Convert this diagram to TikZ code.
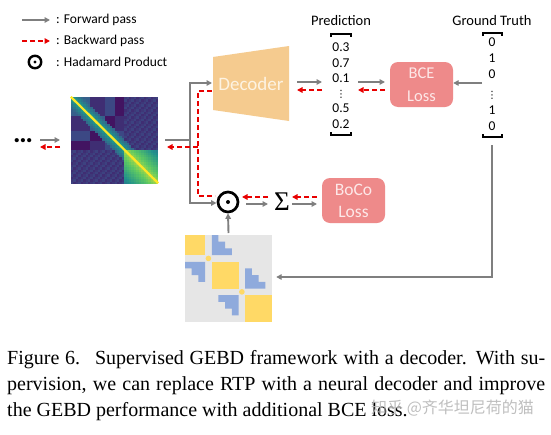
\documentclass[tikz,border=0pt]{standalone}
\usepackage{fontspec}
\setmainfont{Liberation Serif}
\newfontfamily\calfont{Carlito}
\newfontfamily\dejafont{DejaVu Sans}
\newfontfamily\cjkfont{Noto Sans CJK SC}
\usetikzlibrary{arrows.meta}
\definecolor{fgray}{RGB}{127,127,127}
\definecolor{bred}{RGB}{232,0,0}
\definecolor{decfill}{RGB}{245,203,143}
\definecolor{decText}{RGB}{253,243,226}
\definecolor{lossfill}{RGB}{238,138,138}
\definecolor{lossText}{RGB}{253,232,232}
\definecolor{mbg}{RGB}{230,230,230}
\definecolor{myel}{RGB}{255,217,102}
\definecolor{mblue}{RGB}{143,170,220}
\definecolor{vA}{RGB}{68,1,84}
\definecolor{vB}{RGB}{59,82,139}
\definecolor{vC}{RGB}{33,145,140}
\definecolor{vD}{RGB}{94,201,98}
\definecolor{vE}{RGB}{253,231,37}
\newcommand\hmcolor[1]{%
 \pgfmathsetmacro\hmx{#1}%
 \ifdim\hmx pt<0.25pt
   \pgfmathsetmacro\hmt{\hmx*400}\colorlet{hmc}{vB!\hmt!vA}%
 \else\ifdim\hmx pt<0.5pt
   \pgfmathsetmacro\hmt{(\hmx-0.25)*400}\colorlet{hmc}{vC!\hmt!vB}%
 \else\ifdim\hmx pt<0.75pt
   \pgfmathsetmacro\hmt{(\hmx-0.5)*400}\colorlet{hmc}{vD!\hmt!vC}%
 \else
   \pgfmathsetmacro\hmt{min(100,(\hmx-0.75)*400)}\colorlet{hmc}{vE!\hmt!vD}%
 \fi\fi\fi}
\begin{document}
\begin{tikzpicture}[x=1pt,y=-1pt,
  fwd/.style={draw=fgray, line width=1.9pt, -{Triangle[length=5.5pt,width=5.5pt]}},
  fwdline/.style={draw=fgray, line width=1.9pt},
  bwd/.style={draw=bred, line width=2.1pt, dash pattern=on 5pt off 3pt, -{Triangle[length=5.5pt,width=5.5pt]}},
  bwdline/.style={draw=bred, line width=2.1pt, dash pattern=on 5pt off 3pt},
  legtxt/.style={anchor=west, inner sep=0, font=\calfont\fontsize{13.5}{15}\selectfont},
  lbl/.style={inner sep=0, font=\calfont\fontsize{14.5}{17}\selectfont},
  num/.style={inner sep=0, font=\calfont\fontsize{13.5}{16}\selectfont},
  vdt/.style={inner sep=0, font=\dejafont\fontsize{10}{10}\selectfont},
  brk/.style={draw=black, line width=1.3pt},
  hada/.style={circle, draw=black, line width=2.7pt, minimum size=20pt, inner sep=0},
  loss/.style={rounded corners=8pt, fill=lossfill, minimum width=63pt, minimum height=45pt, align=center, text=lossText, inner sep=0},
  capline/.style={anchor=base west, inner sep=0, font=\fontsize{20}{25}\selectfont}
]
\useasboundingbox (0,0) rectangle (551,434);
\fill[white] (0,0) rectangle (551,434);

% ---------- legend ----------
\coordinate (lf1) at (22,20); \coordinate (lf2) at (50,20);
\draw[fwd] (lf1) -- (lf2);
\node[legtxt] (lt1) at (56,20) {: Forward pass};
\coordinate (lb1) at (22,41); \coordinate (lb2) at (50,41);
\draw[bwd] (lb1) -- (lb2);
\node[legtxt] (lt2) at (56,41) {: Backward pass};
\node[hada, minimum size=12.5pt, line width=2.4pt] (lego) at (35,62) {};
\fill (lego.center) circle (1.6pt);
\node[legtxt] (lt3) at (56,62) {: Hadamard Product};

% ---------- heat map ----------
\node[minimum width=87pt, minimum height=86pt, inner sep=0] (heat) at (114.5,140) {};
\pgfmathsetmacro\hmS{87/36}
\foreach \i in {0,...,35}{
  \foreach \j in {0,...,35}{
    \pgfmathtruncatemacro\hmd{abs(\i-\j)}
    \pgfmathtruncatemacro\hmbi{(\i>7)+(\i>13)+(\i>17)+(\i>21)}
    \pgfmathtruncatemacro\hmbj{(\j>7)+(\j>13)+(\j>17)+(\j>21)}
    \pgfmathtruncatemacro\hmlr{(\i>21)*(\j>21)}
    \ifnum\hmlr=1 \pgfmathsetmacro\hmv{0.86-0.032*\hmd}%
    \else\ifnum\hmd<5 \pgfmathsetmacro\hmv{0.56-0.055*\hmd}%
    \else\ifnum\hmbi=\hmbj \def\hmv{0.3}%
    \else\ifnum\hmbi=4 \pgfmathsetmacro\hmv{0.14+0.03*mod(\i+\j,3)}%
    \else\ifnum\hmbj=4 \pgfmathsetmacro\hmv{0.14+0.03*mod(\i+\j,3)}%
    \else \pgfmathsetmacro\hmv{0.06+0.08*mod(\hmbi+\hmbj,3)}%
    \fi\fi\fi\fi\fi
    \hmcolor{\hmv}
    \fill[hmc] (71+\j*\hmS,97+\i*\hmS) rectangle ++(\hmS+0.35,\hmS+0.35);
  }
}
\draw[vE, line width=2.2pt] (heat.north west) -- (heat.south east);

% ---------- dots left ----------
\node[inner sep=0, font=\calfont\bfseries\fontsize{28}{28}\selectfont] (dots) at (23,141) {…};
\coordinate (d1) at (40,140); \coordinate (d2) at (60,140);
\draw[fwd] (d1) -- (d2);
\coordinate (d3) at (60,147); \coordinate (d4) at (40,147);
\draw[bwd] (d3) -- (d4);

% ---------- decoder ----------
\fill[decfill] (213,57) -- (289,46) -- (289,121) -- (213,110) -- cycle;
\node[inner sep=0, text=decText, font=\calfont\fontsize{19}{22}\selectfont] (dec) at (251,84) {Decoder};

% ---------- Hadamard + sum + BoCo ----------
\node[hada] (had) at (228,202) {};
\fill (had.center) circle (2pt);
\node[inner sep=0, font=\fontsize{27}{27}\selectfont] (sig) at (282,202) {Σ};
\node[loss, font=\calfont\fontsize{17.5}{22}\selectfont] (boco) at (353.5,200.5) {BoCo\\Loss};

% ---------- prediction ----------
\node[lbl] (predlbl) at (341,21) {Prediction};
\node[num] (p1) at (341,47.5) {0.3};
\node[num] (p2) at (341,63) {0.7};
\node[num] (p3) at (341,78.5) {0.1};
\node[vdt] (p4) at (341,94) {⋮};
\node[num] (p5) at (341,108) {0.5};
\node[num] (p6) at (341,124) {0.2};
\draw[brk] (331,37) -- (331,34) -- (351,34) -- (351,37);
\draw[brk] (331,132) -- (331,135) -- (351,135) -- (351,132);

% ---------- BCE ----------
\node[loss, font=\calfont\fontsize{16.5}{23}\selectfont] (bce) at (421.5,84.5) {BCE\\Loss};

% ---------- ground truth ----------
\node[lbl] (gtlbl) at (492,21) {Ground Truth};
\node[num] (g1) at (492,41.7) {0};
\node[num] (g2) at (492,58) {1};
\node[num] (g3) at (492,74) {0};
\node[vdt] (g4) at (492,95) {⋮};
\node[num] (g5) at (492,110) {1};
\node[num] (g6) at (492,126) {0};
\draw[brk] (483,36) -- (483,33) -- (502,33) -- (502,36);
\draw[brk] (483,134) -- (483,137) -- (502,137) -- (502,134);

% ---------- target matrix ----------
\fill[mbg] (185,235) rectangle (272,322);
\node[minimum size=87pt, inner sep=0] (tgt) at (228.5,278.5) {};
\begin{scope}[xshift=185pt, yshift=-235pt, x=6.6923pt, y=-6.6923pt]
  \fill[myel] (0,0) rectangle (3,3);
  \fill[myel] (4,4) rectangle (8,8);
  \fill[myel] (9,9) rectangle (13,13);
  \fill[myel] (3.5,3.5) circle (0.42);
  \fill[myel] (8.5,8.5) circle (0.42);
  \fill[mblue] (4,0) -- (5,0) -- (5,1) -- (6,1) -- (6,2) -- (7,2) -- (7,3) -- (4,3) -- cycle;
  \fill[mblue] (9,5) -- (10,5) -- (10,6) -- (11,6) -- (11,7) -- (12,7) -- (12,8) -- (9,8) -- cycle;
  \fill[mblue] (0,4) -- (0,5) -- (1,5) -- (1,6) -- (2,6) -- (2,7) -- (3,7) -- (3,4) -- cycle;
  \fill[mblue] (5,9) -- (5,10) -- (6,10) -- (6,11) -- (7,11) -- (7,12) -- (8,12) -- (8,9) -- cycle;
\end{scope}

% ---------- connectors ----------
\coordinate (hr) at (165,140);
\coordinate (sp) at (190,140);
\coordinate (decin) at (212,83);
\coordinate (hadin) at (216.5,203);
\draw[fwdline] (hr) -- (sp);
\draw[fwd] (sp) |- (decin);
\draw[fwd] (sp) |- (hadin);
\coordinate (decout) at (212,91);
\coordinate (rj) at (198,147);
\coordinate (hadout) at (215,196);
\draw[bwdline] (decout) -| (rj) |- (hadout);
\coordinate (hl) at (167,147);
\draw[bwd] (rj) -- (hl);

\draw[fwd] (297,82) -- (322,82);
\draw[bwd] (322,90) -- (297,90);
\draw[fwd] (358,82) -- (385,82);
\draw[bwd] (385,90) -- (358,90);
\draw[fwd] (482,83) -- (bce.east |- 0,83);

\draw[fwd] (246,204) -- (268,204);
\draw[bwd] (268,197) -- (242,197);
\draw[fwd] (292,204) -- (317,204);
\draw[bwd] (317,197) -- (292,197);

\draw[fwd] (tgt.north |- 0,233) -- (had.south);
\coordinate (gtb) at (492,145);
\draw[fwd] (gtb) |- ([xshift=4pt]tgt.east |- 0,277);

% ---------- caption ----------
\node[capline] (c1) at (7,364) {\makebox[538pt][s]{Figure 6. \ Supervised GEBD framework with a decoder. With su-}};
\node[capline] (c2) at (7,390) {\makebox[538pt][s]{pervision, we can replace RTP with a neural decoder and improve}};
\node[capline] (c3) at (7,416) {the GEBD performance with additional BCE loss.};
\node[anchor=west, inner sep=0, font=\cjkfont\fontsize{16}{16}\selectfont, text=black!28, opacity=0.9] (wm) at (371,408) {知乎 @齐华坦尼荷的猫};
\end{tikzpicture}
\end{document}
